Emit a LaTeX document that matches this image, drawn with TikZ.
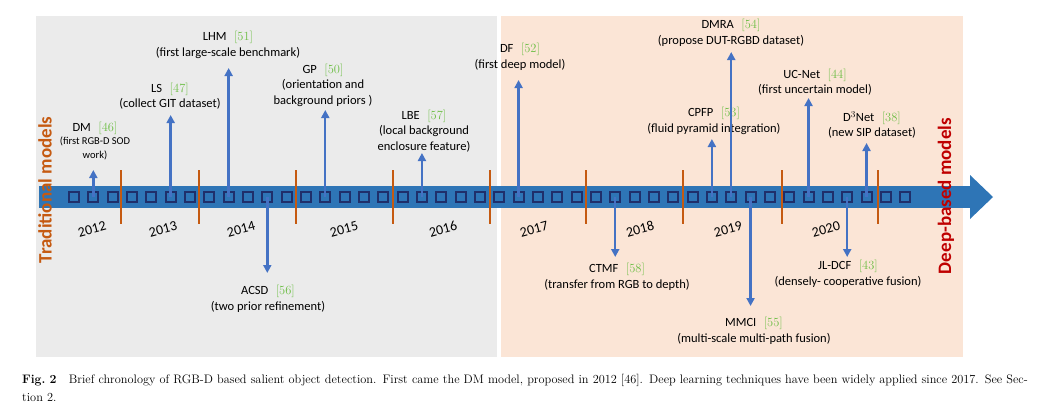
\documentclass[tikz,border=0pt]{standalone}
\usepackage{fontspec}
\setmainfont{Latin Modern Roman}
\newfontfamily\lblfont{Carlito}
\usepackage{xcolor}
\usetikzlibrary{arrows.meta, positioning}
\definecolor{barblue}{HTML}{2E75B6}
\definecolor{evtblue}{HTML}{4472C4}
\definecolor{navy}{HTML}{1F2F6B}
\definecolor{tickor}{HTML}{C55A11}
\definecolor{refgreen}{HTML}{6DBE45}
\definecolor{oldbg}{HTML}{EBEBEB}
\definecolor{newbg}{HTML}{FBE5D6}
\newcommand{\rf}[1]{\hspace{0.6em}{\rmfamily\color{refgreen}[#1]}}
\begin{document}
\begin{tikzpicture}[x=1pt, y=-1pt,
    % Styles
    sq/.style={rectangle, draw=navy, line width=2pt, fill=barblue,
        minimum width=10pt, minimum height=10pt, inner sep=0pt},
    yeartick/.style={draw=tickor, line width=2.4pt},
    year/.style={font=\lblfont\fontsize{14}{16}\selectfont, rotate=15},
    evt/.style={draw=evtblue, line width=2.4pt, -{Triangle[width=8pt,length=8pt]}},
    lbl/.style={font=\lblfont\fontsize{12.5}{15.5}\selectfont, align=center, inner sep=1pt},
    side/.style={font=\lblfont\bfseries\fontsize{19}{21}\selectfont, rotate=90}
]
\useasboundingbox (0,0) rectangle (1060,415);

% Background panels
\fill[oldbg] (36,16) rectangle (497,357);
\fill[newbg] (501,16) rectangle (963,357);

% Time bar
\fill[barblue] (39,186) rectangle (970,208);
\fill[barblue] (970,175) -- (993,197) -- (970,219) -- cycle;
\foreach \i in {0,...,43}
    \node[sq] (sq\i) at (74+19.33*\i,197) {};

% Year separators
\foreach \x in {121,199,296,393,490,586,683,782,878}
    \draw[yeartick] (\x,170) -- (\x,224);

% Years
\foreach \y/\x in {2012/92,2013/163,2014/241,2015/344,2016/443,2017/534,2018/640,2019/728,2020/826}
    \node[year] at (\x,229) {\y};

% Side labels
\node[side, text=tickor] (trad) at (45,190) {Traditional models};
\node[side, text=red!75!black] (deep) at (946,196) {Deep-based models};

% Events above the bar
\draw[evt] (sq1.center) -- ++(0,-27);
\node[lbl] (dm) at (95,141) {DM\rf{46}\\[-2pt]{\fontsize{10.5}{12.5}\selectfont(first RGB-D SOD}\\[-2pt]{\fontsize{10.5}{12.5}\selectfont work)}};
\draw[evt] (sq5.center) -- ++(0,-82);
\node[lbl] (ls) at (170,96) {LS\rf{47}\\(collect GIT dataset)};
\draw[evt] (sq8.center) -- ++(0,-129);
\node[lbl] (lhm) at (228,45) {LHM\rf{51}\\(first large-scale benchmark)};
\draw[evt] (sq13.center) -- ++(0,-87);
\node[lbl] (gp) at (323,85) {GP\rf{50}\\(orientation and\\background priors )};
\draw[evt] (sq18.center) -- ++(0,-44);
\node[lbl] (lbe) at (424,131) {LBE\rf{57}\\(local background\\enclosure feature)};
\draw[evt] (sq23.center) -- ++(0,-117);
\node[lbl] (df) at (520,57) {DF\rf{52}\\(first deep model)};
\draw[evt] (sq33.center) -- ++(0,-58);
\node[lbl] (cpfp) at (714,121) {CPFP\rf{53}\\(fluid pyramid integration)};
\draw[evt] (sq34.center) -- ++(0,-145);
\node[lbl] (dmra) at (731,33) {DMRA\rf{54}\\(propose DUT-RGBD dataset)};
\draw[evt] (sq38.center) -- ++(0,-99);
\node[lbl] (ucnet) at (815,82) {UC-Net\rf{44}\\(first uncertain model)};
\draw[evt] (sq41.center) -- ++(0,-54);
\node[lbl] (dnet) at (872,125) {D$^3$Net\rf{38}\\(new SIP dataset)};

% Events below the bar
\draw[evt] (sq10.center) -- ++(0,76);
\node[lbl] (acsd) at (268,299) {ACSD\rf{56}\\(two prior refinement)};
\draw[evt] (sq28.center) -- ++(0,60);
\node[lbl] (ctmf) at (617,277) {CTMF\rf{58}\\(transfer from RGB to depth)};
\draw[evt] (sq35.center) -- ++(0,109);
\node[lbl] (mmci) at (754,331) {MMCI\rf{55}\\(multi-scale multi-path fusion)};
\draw[evt] (sq40.center) -- ++(0,60);
\node[lbl] (jldcf) at (848,274) {JL-DCF\rf{43}\\(densely- cooperative fusion)};

% Caption
\node[anchor=north west, text width=1015pt, align=left, inner sep=0pt,
    font=\fontsize{12.3}{18}\selectfont] (cap) at (22,374)
    {\textbf{Fig.~2}\quad Brief chronology of RGB-D based salient object detection. First came the DM model, proposed in 2012 [46]. Deep learning techniques have been widely applied since 2017. See Section 2.};
\end{tikzpicture}
\end{document}
